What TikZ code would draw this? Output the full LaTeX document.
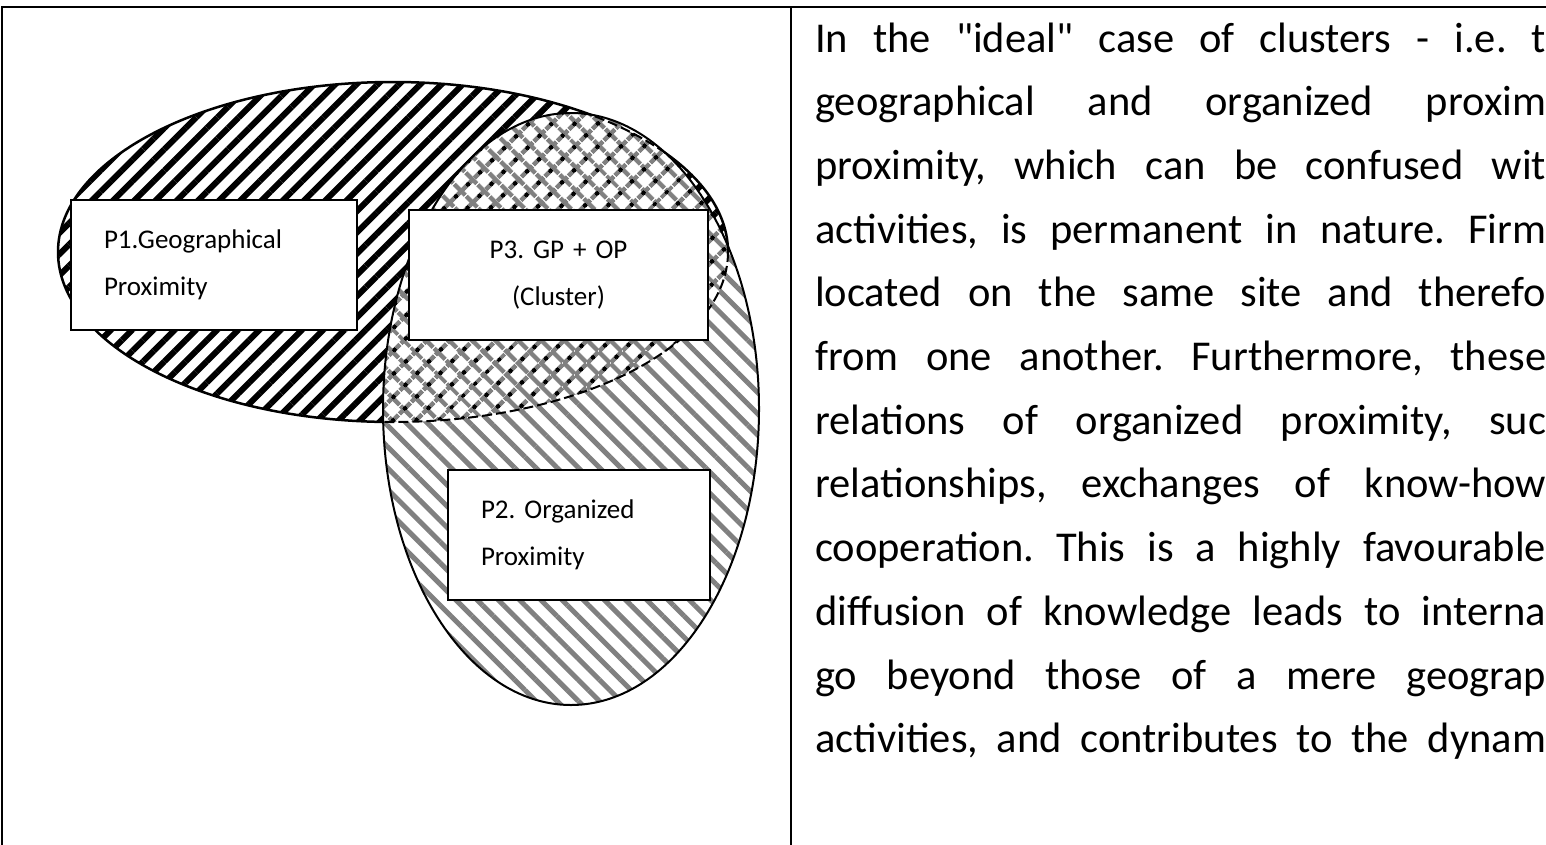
\documentclass[tikz,border=0pt]{standalone}
\usepackage{fontspec}
\setmainfont{Carlito}[Ligatures=TeXOff]
\usetikzlibrary{patterns.meta}
\begin{document}
\frenchspacing
\begin{tikzpicture}[x=1pt,y=-1pt,
  lbl/.style={draw,line width=2pt,fill=white,text width=#1-66pt,inner xsep=33pt,inner ysep=0pt,minimum height=130,font=\fontsize{27}{47}\selectfont},
  txt/.style={anchor=base west,inner sep=0,font=\fontsize{42.5}{44}\selectfont}]
\useasboundingbox (0,0) rectangle (1546,844);
\draw[line width=2.5pt] (2,850) -- (2,7) -- (1550,7);
\draw[line width=2pt] (791,7) -- (791,850);
% ellipses
\def\ea{(393,252) ellipse [x radius=335,y radius=170]}
\def\eb{(571,409) ellipse [x radius=188,y radius=296]}
\fill[pattern={Lines[angle=45,distance=15pt,line width=6pt]},pattern color=black] \ea;
\fill[white] \eb;
\fill[pattern={Lines[angle=-45,distance=15pt,line width=5pt]},pattern color=gray] \eb;
\begin{scope}
\clip \eb;
\fill[white] \ea;
\fill[pattern={Lines[angle=-45,distance=17pt,line width=5pt]},pattern color=gray] \ea;
\fill[pattern={Lines[angle=45,distance=17pt,line width=5pt]},pattern color=gray] \ea;
\fill[pattern={Dots[distance=17pt,angle=45,radius=2.5pt]},pattern color=black] \ea;
\draw[line width=2pt,dash pattern=on 10pt off 4pt] \ea;
\end{scope}
\begin{scope}
\clip (-10,-10) rectangle (1600,900) \eb;
\draw[line width=2.5pt] \ea;
\end{scope}
\draw[line width=2pt] \eb;
% labels
\node[lbl=286pt,align=left] (p1) at (214,265) {P1.Geographical\\Proximity};
\node[lbl=299pt,align=center] (p3) at (558.5,275) {P3. GP + OP\\(Cluster)};
\node[lbl=262pt,align=left] (p2) at (579,535) {P2. Organized\\Proximity};
% text
\begin{scope}
\clip (793,8) rectangle (1546,844);
\foreach \t [count=\i from 0] in {
{In the "ideal" case of clusters - i.e. t},
{geographical and organized proxim},
{proximity, which can be confused wit},
{activities, is permanent in nature. Firm},
{located on the same site and therefo},
{from one another. Furthermore, these},
{relations of organized proximity, suc},
{relationships, exchanges of know-how},
{cooperation. This is a highly favourable},
{diffusion of knowledge leads to interna},
{go beyond those of a mere geograp},
{activities, and contributes to the dynam}}
  {\node[txt] (t\i) at (815,52+63.7*\i) {\makebox[731pt][s]{\t}};}
\end{scope}
\end{tikzpicture}
\end{document}
